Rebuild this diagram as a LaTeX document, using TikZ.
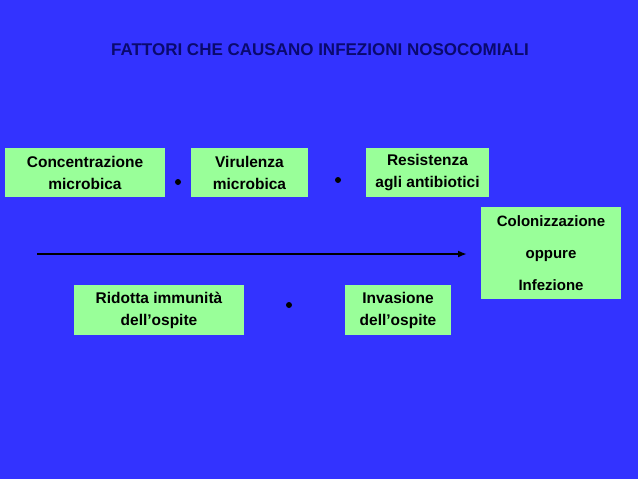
\documentclass[tikz,border=0pt]{standalone}
\usepackage{fontspec}
\setmainfont{Liberation Sans}
\usetikzlibrary{arrows.meta}
\definecolor{bg}{RGB}{51,51,255}
\definecolor{gr}{RGB}{153,255,153}
\definecolor{tt}{RGB}{10,10,110}
\begin{document}
\begin{tikzpicture}[x=1pt,y=-1pt,
 bx/.style={fill=gr,inner sep=0pt,align=center,font=\bfseries\fontsize{15.5}{22}\selectfont},
 dotm/.style={circle,fill=black,inner sep=0pt,minimum size=6pt}]
\fill[bg] (0,0) rectangle (638,479);
\useasboundingbox (0,0) rectangle (638,479);
\node[font=\bfseries\fontsize{17}{20}\selectfont,text=tt] (title) at (320,50) {FATTORI CHE CAUSANO INFEZIONI NOSOCOMIALI};
\node[bx,minimum width=160pt,minimum height=49pt] (c) at (85,172.5) {Concentrazione\\microbica};
\node[bx,minimum width=117pt,minimum height=49pt] (v) at (249.5,172.5) {Virulenza\\microbica};
\node[bx,minimum width=123pt,minimum height=49pt] (r) at (427.5,172.5) {Resistenza\\agli antibiotici};
\node[bx,minimum width=140pt,minimum height=92pt,font=\bfseries\fontsize{15}{32}\selectfont] (o) at (551,253) {Colonizzazione\\oppure\\Infezione};
\node[bx,minimum width=170pt,minimum height=50pt] (d) at (159,310) {Ridotta immunità\\dell’ospite};
\node[bx,minimum width=106pt,minimum height=50pt] (i) at (398,310) {Invasione\\dell’ospite};
\node[dotm] (d1) at (178,182) {};
\node[dotm] (d2) at (338,180) {};
\node[dotm] (d3) at (289,305) {};
\coordinate (a0) at (37,254);
\coordinate (a1) at (467,254);
\draw[line width=2.4pt,-{Latex[length=9pt,width=7pt]}] (a0) -- (a1);
\end{tikzpicture}
\end{document}
